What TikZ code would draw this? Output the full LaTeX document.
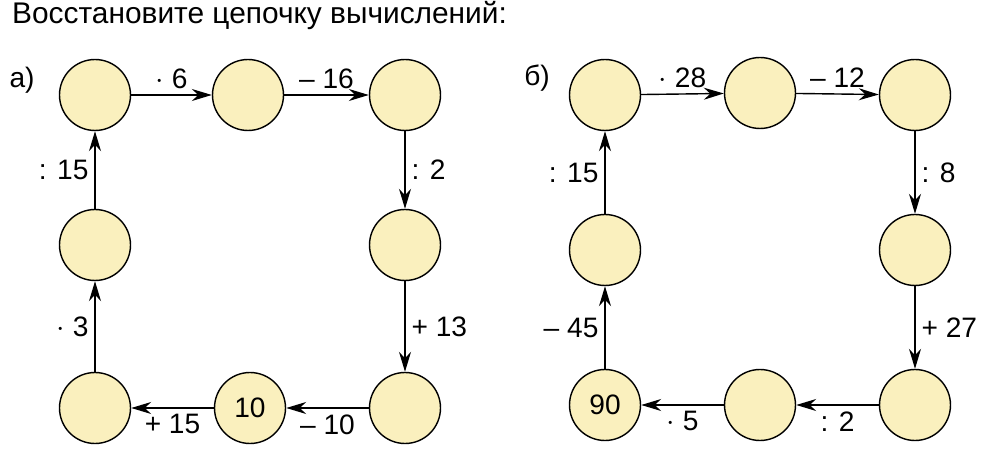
\documentclass[tikz,border=0pt]{standalone}
\usepackage{fontspec}
\setmainfont{Liberation Sans}
\usetikzlibrary{arrows.meta}
\definecolor{cellfill}{RGB}{250,240,190}
\tikzset{
  cell/.style={circle,draw,thick,fill=cellfill,minimum size=1.42cm,inner sep=0pt,font=\fontsize{16}{18}\selectfont},
  op/.style={font=\fontsize{16}{18}\selectfont},
  step arrow/.style={-{Stealth[length=4mm,width=2.4mm]},thick}
}
\begin{document}
\begin{tikzpicture}[x=0.02cm,y=-0.02cm]
  \useasboundingbox (0,0) rectangle (1001,452);
  \node[anchor=west,font=\fontsize{17}{20}\selectfont] (title) at (6,16) {Восстановите цепочку вычислений:};
  % a)
  \node[op] (la) at (22,80) {а)};
  \node[cell] (a1) at (95,95) {};
  \node[cell] (a2) at (248,95) {};
  \node[cell] (a3) at (405,95) {};
  \node[cell] (a4) at (405,245) {};
  \node[cell] (a5) at (405,408) {};
  \node[cell] (a6) at (250,408) {10};
  \node[cell] (a7) at (95,408) {};
  \node[cell] (a8) at (95,245) {};
  \draw[step arrow] (a1) -- node[op,above] {$\cdot$ 6} (a2);
  \draw[step arrow] (a2) -- node[op,above] {– 16} (a3);
  \draw[step arrow] (a3) -- node[op,right] {: 2} (a4);
  \draw[step arrow] (a4) -- node[op,right] {+ 13} (a5);
  \draw[step arrow] (a5) -- node[op,below] {– 10} (a6);
  \draw[step arrow] (a6) -- node[op,below] {+ 15} (a7);
  \draw[step arrow] (a7) -- node[op,left] {$\cdot$ 3} (a8);
  \draw[step arrow] (a8) -- node[op,left] {: 15} (a1);
  % b)
  \node[op] (lb) at (537,78) {б)};
  \node[cell] (b1) at (605,95) {};
  \node[cell] (b2) at (760,93) {};
  \node[cell] (b3) at (915,95) {};
  \node[cell] (b4) at (915,250) {};
  \node[cell] (b5) at (915,405) {};
  \node[cell] (b6) at (760,405) {};
  \node[cell] (b7) at (605,405) {90};
  \node[cell] (b8) at (605,250) {};
  \draw[step arrow] (b1) -- node[op,above] {$\cdot$ 28} (b2);
  \draw[step arrow] (b2) -- node[op,above] {– 12} (b3);
  \draw[step arrow] (b3) -- node[op,right] {: 8} (b4);
  \draw[step arrow] (b4) -- node[op,right] {+ 27} (b5);
  \draw[step arrow] (b5) -- node[op,below] {: 2} (b6);
  \draw[step arrow] (b6) -- node[op,below] {$\cdot$ 5} (b7);
  \draw[step arrow] (b7) -- node[op,left] {– 45} (b8);
  \draw[step arrow] (b8) -- node[op,left] {: 15} (b1);
\end{tikzpicture}
\end{document}
